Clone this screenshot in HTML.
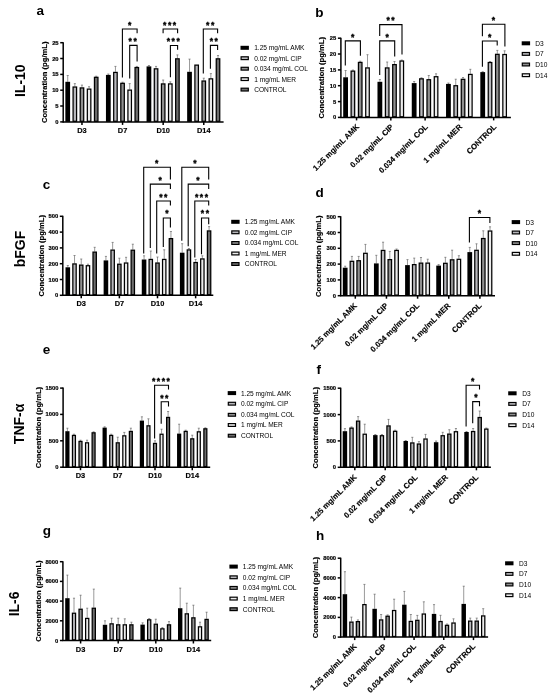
<!DOCTYPE html>
<html lang="en"><head><meta charset="utf-8"><title>Cytokine concentrations</title>
<style>
html,body{margin:0;padding:0;background:#fff;}
body{width:550px;height:698px;overflow:hidden;}
svg{display:block;filter:blur(0.35px);}
text{font-family:"Liberation Sans", sans-serif;fill:#000;}
.a{stroke:#000;stroke-width:1.5;fill:none;}
.e{stroke:#555;stroke-width:0.6;fill:none;}
.b{stroke:#000;stroke-width:1.1;fill:none;}
.t{font-size:5.8px;font-weight:bold;stroke:#000;stroke-width:0.2px;}
.yl{font-size:7.6px;font-weight:bold;stroke:#000;stroke-width:0.15px;}
.xl{font-size:7.4px;font-weight:bold;stroke:#000;stroke-width:0.15px;}
.xr{font-size:7.75px;font-weight:bold;stroke:#000;stroke-width:0.15px;}
.lg{font-size:6.6px;}
.pl{font-size:13.5px;font-weight:bold;}
.rl{font-size:14px;font-weight:bold;}
.s{font-size:8.6px;font-weight:bold;text-anchor:middle;stroke:#000;stroke-width:0.35px;letter-spacing:1.55px;}
</style></head><body>
<svg width="550" height="698" viewBox="0 0 550 698">
<rect x="0" y="0" width="550" height="698" fill="#fff"/>
<g id="panel-a">
<line x1="67.72" y1="81.8" x2="67.72" y2="75.5" class="e"/>
<line x1="66.67" y1="75.5" x2="68.77" y2="75.5" class="e"/>
<rect x="65.35" y="81.8" width="4.75" height="40.1" fill="#000"/>
<line x1="74.84" y1="86.4" x2="74.84" y2="83.6" class="e"/>
<line x1="73.8" y1="83.6" x2="75.89" y2="83.6" class="e"/>
<rect x="73.09" y="87.03" width="3.5" height="34.25" fill="#b8b8bc" stroke="#000" stroke-width="1.25"/>
<line x1="81.96" y1="87.3" x2="81.96" y2="85.1" class="e"/>
<line x1="80.91" y1="85.1" x2="83.01" y2="85.1" class="e"/>
<rect x="80.21" y="87.92" width="3.5" height="33.35" fill="#909090" stroke="#000" stroke-width="1.25"/>
<line x1="89.08" y1="88.5" x2="89.08" y2="86.7" class="e"/>
<line x1="88.03" y1="86.7" x2="90.13" y2="86.7" class="e"/>
<rect x="87.33" y="89.12" width="3.5" height="32.15" fill="#ececec" stroke="#000" stroke-width="1.25"/>
<line x1="96.2" y1="76.7" x2="96.2" y2="76.2" class="e"/>
<line x1="95.16" y1="76.2" x2="97.25" y2="76.2" class="e"/>
<rect x="94.45" y="77.33" width="3.5" height="43.95" fill="#6e6e6e" stroke="#000" stroke-width="1.25"/>
<line x1="108.32" y1="74.9" x2="108.32" y2="74" class="e"/>
<line x1="107.27" y1="74" x2="109.37" y2="74" class="e"/>
<rect x="105.95" y="74.9" width="4.75" height="47" fill="#000"/>
<line x1="115.44" y1="71.8" x2="115.44" y2="66.4" class="e"/>
<line x1="114.39" y1="66.4" x2="116.49" y2="66.4" class="e"/>
<rect x="113.69" y="72.42" width="3.5" height="48.85" fill="#b8b8bc" stroke="#000" stroke-width="1.25"/>
<line x1="122.56" y1="82.7" x2="122.56" y2="82.2" class="e"/>
<line x1="121.51" y1="82.2" x2="123.61" y2="82.2" class="e"/>
<rect x="120.81" y="83.33" width="3.5" height="37.95" fill="#909090" stroke="#000" stroke-width="1.25"/>
<line x1="129.69" y1="89.5" x2="129.69" y2="83.6" class="e"/>
<line x1="128.63" y1="83.6" x2="130.74" y2="83.6" class="e"/>
<rect x="127.93" y="90.12" width="3.5" height="31.15" fill="#ececec" stroke="#000" stroke-width="1.25"/>
<line x1="136.8" y1="66.9" x2="136.8" y2="66.4" class="e"/>
<line x1="135.75" y1="66.4" x2="137.85" y2="66.4" class="e"/>
<rect x="135.05" y="67.53" width="3.5" height="53.75" fill="#6e6e6e" stroke="#000" stroke-width="1.25"/>
<line x1="148.93" y1="66.4" x2="148.93" y2="65.5" class="e"/>
<line x1="147.88" y1="65.5" x2="149.98" y2="65.5" class="e"/>
<rect x="146.55" y="66.4" width="4.75" height="55.5" fill="#000"/>
<line x1="156.05" y1="68.2" x2="156.05" y2="66.4" class="e"/>
<line x1="155" y1="66.4" x2="157.1" y2="66.4" class="e"/>
<rect x="154.3" y="68.83" width="3.5" height="52.45" fill="#b8b8bc" stroke="#000" stroke-width="1.25"/>
<line x1="163.17" y1="83.3" x2="163.17" y2="80" class="e"/>
<line x1="162.12" y1="80" x2="164.22" y2="80" class="e"/>
<rect x="161.42" y="83.92" width="3.5" height="37.35" fill="#909090" stroke="#000" stroke-width="1.25"/>
<line x1="170.29" y1="83.3" x2="170.29" y2="81.8" class="e"/>
<line x1="169.24" y1="81.8" x2="171.34" y2="81.8" class="e"/>
<rect x="168.54" y="83.92" width="3.5" height="37.35" fill="#ececec" stroke="#000" stroke-width="1.25"/>
<line x1="177.41" y1="58.2" x2="177.41" y2="54.9" class="e"/>
<line x1="176.35" y1="54.9" x2="178.46" y2="54.9" class="e"/>
<rect x="175.66" y="58.83" width="3.5" height="62.45" fill="#6e6e6e" stroke="#000" stroke-width="1.25"/>
<line x1="189.53" y1="71.8" x2="189.53" y2="59.1" class="e"/>
<line x1="188.47" y1="59.1" x2="190.58" y2="59.1" class="e"/>
<rect x="187.15" y="71.8" width="4.75" height="50.1" fill="#000"/>
<rect x="194.9" y="65.12" width="3.5" height="56.15" fill="#b8b8bc" stroke="#000" stroke-width="1.25"/>
<line x1="203.77" y1="80.4" x2="203.77" y2="78.2" class="e"/>
<line x1="202.72" y1="78.2" x2="204.82" y2="78.2" class="e"/>
<rect x="202.02" y="81.03" width="3.5" height="40.25" fill="#909090" stroke="#000" stroke-width="1.25"/>
<line x1="210.88" y1="78.2" x2="210.88" y2="73.6" class="e"/>
<line x1="209.83" y1="73.6" x2="211.94" y2="73.6" class="e"/>
<rect x="209.13" y="78.83" width="3.5" height="42.45" fill="#ececec" stroke="#000" stroke-width="1.25"/>
<line x1="218" y1="58.2" x2="218" y2="55.5" class="e"/>
<line x1="216.95" y1="55.5" x2="219.06" y2="55.5" class="e"/>
<rect x="216.25" y="58.83" width="3.5" height="62.45" fill="#6e6e6e" stroke="#000" stroke-width="1.25"/>
<line x1="63.2" y1="42.2" x2="63.2" y2="122.4" class="a"/>
<line x1="62.7" y1="121.9" x2="223.6" y2="121.9" class="a"/>
<line x1="60.2" y1="42.7" x2="63.2" y2="42.7" class="a"/>
<text x="58.6" y="44.75" class="t" text-anchor="end">25</text>
<line x1="60.2" y1="58.5" x2="63.2" y2="58.5" class="a"/>
<text x="58.6" y="60.55" class="t" text-anchor="end">20</text>
<line x1="60.2" y1="74.4" x2="63.2" y2="74.4" class="a"/>
<text x="58.6" y="76.45" class="t" text-anchor="end">15</text>
<line x1="60.2" y1="90.2" x2="63.2" y2="90.2" class="a"/>
<text x="58.6" y="92.25" class="t" text-anchor="end">10</text>
<line x1="60.2" y1="106" x2="63.2" y2="106" class="a"/>
<text x="58.6" y="108.05" class="t" text-anchor="end">5</text>
<line x1="60.2" y1="121.9" x2="63.2" y2="121.9" class="a"/>
<text x="58.6" y="123.95" class="t" text-anchor="end">0</text>
<text transform="translate(47.2,82.3) rotate(-90)" class="yl" text-anchor="middle">Concentration (pg/mL)</text>
<line x1="81.97" y1="121.9" x2="81.97" y2="124.9" class="a"/>
<text x="81.97" y="133" class="xl" text-anchor="middle">D3</text>
<line x1="122.56" y1="121.9" x2="122.56" y2="124.9" class="a"/>
<text x="122.56" y="133" class="xl" text-anchor="middle">D7</text>
<line x1="163.17" y1="121.9" x2="163.17" y2="124.9" class="a"/>
<text x="163.17" y="133" class="xl" text-anchor="middle">D10</text>
<line x1="203.77" y1="121.9" x2="203.77" y2="124.9" class="a"/>
<text x="203.77" y="133" class="xl" text-anchor="middle">D14</text>
<polyline points="122.4,77.4 122.4,29 137.1,29 137.1,33.3" class="b"/>
<text x="130.48" y="27.6" class="s">*</text>
<polyline points="129.7,78.6 129.7,45.4 137.1,45.4 137.1,61.4" class="b"/>
<text x="133.48" y="44" class="s">**</text>
<polyline points="163.1,33.2 163.1,29 177.6,29 177.6,33.2" class="b"/>
<text x="170.38" y="27.7" class="s">***</text>
<polyline points="170.4,77.3 170.4,45.5 177.6,45.5 177.6,49.8" class="b"/>
<text x="173.98" y="44.2" class="s">***</text>
<polyline points="203.3,73.4 203.3,29 217.6,29 217.6,33.3" class="b"/>
<text x="210.98" y="27.6" class="s">**</text>
<polyline points="210.4,68.8 210.4,45.4 217.6,45.4 217.6,49.9" class="b"/>
<text x="214.58" y="44" class="s">**</text>
<rect x="240.5" y="45.8" width="8.4" height="4" fill="#000"/>
<text x="254.2" y="50.2" class="lg">1.25 mg/mL AMK</text>
<rect x="241.1" y="56.8" width="7.2" height="2.8" fill="#b8b8bc" stroke="#000" stroke-width="1.2"/>
<text x="254.2" y="60.6" class="lg">0.02 mg/mL CIP</text>
<rect x="241.1" y="67.3" width="7.2" height="2.8" fill="#909090" stroke="#000" stroke-width="1.2"/>
<text x="254.2" y="71.1" class="lg">0.034 mg/mL COL</text>
<rect x="241.1" y="77.7" width="7.2" height="2.8" fill="#ececec" stroke="#000" stroke-width="1.2"/>
<text x="254.2" y="81.5" class="lg">1 mg/mL MER</text>
<rect x="241.1" y="88.2" width="7.2" height="2.8" fill="#6e6e6e" stroke="#000" stroke-width="1.2"/>
<text x="254.2" y="92" class="lg">CONTROL</text>
<text x="36.6" y="15.2" class="pl">a</text>
<text transform="translate(25,80.7) rotate(-90)" class="rl" text-anchor="middle">IL-10</text>
</g>
<g id="panel-b">
<line x1="345.6" y1="77.3" x2="345.6" y2="70.5" class="e"/>
<line x1="344.55" y1="70.5" x2="346.65" y2="70.5" class="e"/>
<rect x="343.2" y="77.3" width="4.8" height="40.1" fill="#000"/>
<line x1="352.9" y1="70.5" x2="352.9" y2="70" class="e"/>
<line x1="351.85" y1="70" x2="353.95" y2="70" class="e"/>
<rect x="351.12" y="71.12" width="3.55" height="45.65" fill="#b8b8bc" stroke="#000" stroke-width="1.25"/>
<line x1="360.2" y1="61.8" x2="360.2" y2="61.2" class="e"/>
<line x1="359.15" y1="61.2" x2="361.25" y2="61.2" class="e"/>
<rect x="358.43" y="62.42" width="3.55" height="54.35" fill="#909090" stroke="#000" stroke-width="1.25"/>
<line x1="367.5" y1="67.3" x2="367.5" y2="54.7" class="e"/>
<line x1="366.45" y1="54.7" x2="368.55" y2="54.7" class="e"/>
<rect x="365.72" y="67.92" width="3.55" height="48.85" fill="#ececec" stroke="#000" stroke-width="1.25"/>
<line x1="379.88" y1="81.8" x2="379.88" y2="79.5" class="e"/>
<line x1="378.83" y1="79.5" x2="380.93" y2="79.5" class="e"/>
<rect x="377.48" y="81.8" width="4.8" height="35.6" fill="#000"/>
<line x1="387.18" y1="67.3" x2="387.18" y2="62" class="e"/>
<line x1="386.13" y1="62" x2="388.23" y2="62" class="e"/>
<rect x="385.41" y="67.92" width="3.55" height="48.85" fill="#b8b8bc" stroke="#000" stroke-width="1.25"/>
<line x1="394.48" y1="64" x2="394.48" y2="61.5" class="e"/>
<line x1="393.43" y1="61.5" x2="395.53" y2="61.5" class="e"/>
<rect x="392.71" y="64.62" width="3.55" height="52.15" fill="#909090" stroke="#000" stroke-width="1.25"/>
<line x1="401.78" y1="60.4" x2="401.78" y2="60" class="e"/>
<line x1="400.73" y1="60" x2="402.83" y2="60" class="e"/>
<rect x="400" y="61.02" width="3.55" height="55.75" fill="#ececec" stroke="#000" stroke-width="1.25"/>
<line x1="414.16" y1="83.1" x2="414.16" y2="81.5" class="e"/>
<line x1="413.11" y1="81.5" x2="415.21" y2="81.5" class="e"/>
<rect x="411.76" y="83.1" width="4.8" height="34.3" fill="#000"/>
<line x1="421.46" y1="78.2" x2="421.46" y2="77.8" class="e"/>
<line x1="420.41" y1="77.8" x2="422.51" y2="77.8" class="e"/>
<rect x="419.69" y="78.83" width="3.55" height="37.95" fill="#b8b8bc" stroke="#000" stroke-width="1.25"/>
<line x1="428.76" y1="79.1" x2="428.76" y2="75.5" class="e"/>
<line x1="427.71" y1="75.5" x2="429.81" y2="75.5" class="e"/>
<rect x="426.99" y="79.72" width="3.55" height="37.05" fill="#909090" stroke="#000" stroke-width="1.25"/>
<line x1="436.06" y1="76.1" x2="436.06" y2="73.8" class="e"/>
<line x1="435.01" y1="73.8" x2="437.11" y2="73.8" class="e"/>
<rect x="434.28" y="76.72" width="3.55" height="40.05" fill="#ececec" stroke="#000" stroke-width="1.25"/>
<line x1="448.44" y1="83.9" x2="448.44" y2="83" class="e"/>
<line x1="447.39" y1="83" x2="449.49" y2="83" class="e"/>
<rect x="446.04" y="83.9" width="4.8" height="33.5" fill="#000"/>
<line x1="455.74" y1="85.1" x2="455.74" y2="79.2" class="e"/>
<line x1="454.69" y1="79.2" x2="456.79" y2="79.2" class="e"/>
<rect x="453.96" y="85.72" width="3.55" height="31.05" fill="#b8b8bc" stroke="#000" stroke-width="1.25"/>
<line x1="463.04" y1="78.7" x2="463.04" y2="77.5" class="e"/>
<line x1="461.99" y1="77.5" x2="464.09" y2="77.5" class="e"/>
<rect x="461.26" y="79.33" width="3.55" height="37.45" fill="#909090" stroke="#000" stroke-width="1.25"/>
<line x1="470.34" y1="73.8" x2="470.34" y2="69.3" class="e"/>
<line x1="469.29" y1="69.3" x2="471.39" y2="69.3" class="e"/>
<rect x="468.56" y="74.42" width="3.55" height="42.35" fill="#ececec" stroke="#000" stroke-width="1.25"/>
<line x1="482.72" y1="72.1" x2="482.72" y2="71.7" class="e"/>
<line x1="481.67" y1="71.7" x2="483.77" y2="71.7" class="e"/>
<rect x="480.32" y="72.1" width="4.8" height="45.3" fill="#000"/>
<line x1="490.02" y1="61.9" x2="490.02" y2="61.5" class="e"/>
<line x1="488.97" y1="61.5" x2="491.07" y2="61.5" class="e"/>
<rect x="488.25" y="62.52" width="3.55" height="54.25" fill="#b8b8bc" stroke="#000" stroke-width="1.25"/>
<line x1="497.32" y1="53.7" x2="497.32" y2="50.4" class="e"/>
<line x1="496.27" y1="50.4" x2="498.37" y2="50.4" class="e"/>
<rect x="495.55" y="54.33" width="3.55" height="62.45" fill="#909090" stroke="#000" stroke-width="1.25"/>
<line x1="504.62" y1="53.9" x2="504.62" y2="50.8" class="e"/>
<line x1="503.57" y1="50.8" x2="505.67" y2="50.8" class="e"/>
<rect x="502.84" y="54.52" width="3.55" height="62.25" fill="#ececec" stroke="#000" stroke-width="1.25"/>
<line x1="340.9" y1="37.7" x2="340.9" y2="117.9" class="a"/>
<line x1="340.4" y1="117.4" x2="510.9" y2="117.4" class="a"/>
<line x1="337.9" y1="38.2" x2="340.9" y2="38.2" class="a"/>
<text x="336.3" y="40.25" class="t" text-anchor="end">25</text>
<line x1="337.9" y1="54" x2="340.9" y2="54" class="a"/>
<text x="336.3" y="56.05" class="t" text-anchor="end">20</text>
<line x1="337.9" y1="69.9" x2="340.9" y2="69.9" class="a"/>
<text x="336.3" y="71.95" class="t" text-anchor="end">15</text>
<line x1="337.9" y1="85.7" x2="340.9" y2="85.7" class="a"/>
<text x="336.3" y="87.75" class="t" text-anchor="end">10</text>
<line x1="337.9" y1="101.6" x2="340.9" y2="101.6" class="a"/>
<text x="336.3" y="103.65" class="t" text-anchor="end">5</text>
<line x1="337.9" y1="117.4" x2="340.9" y2="117.4" class="a"/>
<text x="336.3" y="119.45" class="t" text-anchor="end">0</text>
<text transform="translate(324.3,77.8) rotate(-90)" class="yl" text-anchor="middle">Concentration (pg/mL)</text>
<line x1="356.55" y1="117.4" x2="356.55" y2="120.4" class="a"/>
<text transform="translate(359.75,127.3) rotate(-45)" class="xr" text-anchor="end">1.25 mg/mL AMK</text>
<line x1="390.83" y1="117.4" x2="390.83" y2="120.4" class="a"/>
<text transform="translate(394.03,127.3) rotate(-45)" class="xr" text-anchor="end">0.02 mg/mL CIP</text>
<line x1="425.11" y1="117.4" x2="425.11" y2="120.4" class="a"/>
<text transform="translate(428.31,127.3) rotate(-45)" class="xr" text-anchor="end">0.034 mg/mL COL</text>
<line x1="459.39" y1="117.4" x2="459.39" y2="120.4" class="a"/>
<text transform="translate(462.59,127.3) rotate(-45)" class="xr" text-anchor="end">1 mg/mL MER</text>
<line x1="493.67" y1="117.4" x2="493.67" y2="120.4" class="a"/>
<text transform="translate(496.87,127.3) rotate(-45)" class="xr" text-anchor="end">CONTROL</text>
<polyline points="345.3,65.4 345.3,40.9 360.4,40.9 360.4,55.8" class="b"/>
<text x="353.48" y="39.7" class="s">*</text>
<polyline points="379.7,36.1 379.7,24.6 402,24.6 402,54.5" class="b"/>
<text x="391.38" y="23.3" class="s">**</text>
<polyline points="379.7,74.9 379.7,40.9 394.7,40.9 394.7,56.5" class="b"/>
<text x="387.88" y="39.7" class="s">*</text>
<polyline points="482.4,36.2 482.4,24.3 504.9,24.3 504.9,46.4" class="b"/>
<text x="494.08" y="23.4" class="s">*</text>
<polyline points="482.4,66.7 482.4,41 497.2,41 497.2,45.6" class="b"/>
<text x="490.38" y="39.9" class="s">*</text>
<rect x="521.7" y="41.3" width="8.4" height="4" fill="#000"/>
<text x="535.3" y="45.7" class="lg">D3</text>
<rect x="522.3" y="52.5" width="7.2" height="2.8" fill="#b8b8bc" stroke="#000" stroke-width="1.2"/>
<text x="535.3" y="56.3" class="lg">D7</text>
<rect x="522.3" y="63.1" width="7.2" height="2.8" fill="#909090" stroke="#000" stroke-width="1.2"/>
<text x="535.3" y="66.9" class="lg">D10</text>
<rect x="522.3" y="73.8" width="7.2" height="2.8" fill="#ececec" stroke="#000" stroke-width="1.2"/>
<text x="535.3" y="77.6" class="lg">D14</text>
<text x="315.3" y="16.9" class="pl">b</text>
</g>
<g id="panel-c">
<line x1="67.8" y1="267.3" x2="67.8" y2="265.5" class="e"/>
<line x1="66.75" y1="265.5" x2="68.85" y2="265.5" class="e"/>
<rect x="65.5" y="267.3" width="4.6" height="28" fill="#000"/>
<line x1="74.52" y1="263.3" x2="74.52" y2="255.5" class="e"/>
<line x1="73.47" y1="255.5" x2="75.57" y2="255.5" class="e"/>
<rect x="72.84" y="263.93" width="3.35" height="30.75" fill="#b8b8bc" stroke="#000" stroke-width="1.25"/>
<line x1="81.24" y1="264.5" x2="81.24" y2="259" class="e"/>
<line x1="80.19" y1="259" x2="82.29" y2="259" class="e"/>
<rect x="79.56" y="265.12" width="3.35" height="29.55" fill="#909090" stroke="#000" stroke-width="1.25"/>
<line x1="87.96" y1="265.1" x2="87.96" y2="264.2" class="e"/>
<line x1="86.91" y1="264.2" x2="89.01" y2="264.2" class="e"/>
<rect x="86.28" y="265.73" width="3.35" height="28.95" fill="#ececec" stroke="#000" stroke-width="1.25"/>
<line x1="94.68" y1="251.5" x2="94.68" y2="247.3" class="e"/>
<line x1="93.63" y1="247.3" x2="95.73" y2="247.3" class="e"/>
<rect x="93" y="252.12" width="3.35" height="42.55" fill="#6e6e6e" stroke="#000" stroke-width="1.25"/>
<line x1="105.93" y1="260.4" x2="105.93" y2="256.4" class="e"/>
<line x1="104.88" y1="256.4" x2="106.98" y2="256.4" class="e"/>
<rect x="103.63" y="260.4" width="4.6" height="34.9" fill="#000"/>
<line x1="112.65" y1="249.5" x2="112.65" y2="242.4" class="e"/>
<line x1="111.6" y1="242.4" x2="113.7" y2="242.4" class="e"/>
<rect x="110.97" y="250.12" width="3.35" height="44.55" fill="#b8b8bc" stroke="#000" stroke-width="1.25"/>
<line x1="119.37" y1="263.6" x2="119.37" y2="258.2" class="e"/>
<line x1="118.32" y1="258.2" x2="120.42" y2="258.2" class="e"/>
<rect x="117.69" y="264.23" width="3.35" height="30.45" fill="#909090" stroke="#000" stroke-width="1.25"/>
<line x1="126.09" y1="262.4" x2="126.09" y2="257.3" class="e"/>
<line x1="125.04" y1="257.3" x2="127.14" y2="257.3" class="e"/>
<rect x="124.41" y="263.02" width="3.35" height="31.65" fill="#ececec" stroke="#000" stroke-width="1.25"/>
<line x1="132.81" y1="249.6" x2="132.81" y2="244.2" class="e"/>
<line x1="131.76" y1="244.2" x2="133.86" y2="244.2" class="e"/>
<rect x="131.13" y="250.22" width="3.35" height="44.45" fill="#6e6e6e" stroke="#000" stroke-width="1.25"/>
<line x1="144.06" y1="259.5" x2="144.06" y2="255.8" class="e"/>
<line x1="143.01" y1="255.8" x2="145.11" y2="255.8" class="e"/>
<rect x="141.76" y="259.5" width="4.6" height="35.8" fill="#000"/>
<line x1="150.78" y1="258.8" x2="150.78" y2="251" class="e"/>
<line x1="149.73" y1="251" x2="151.83" y2="251" class="e"/>
<rect x="149.1" y="259.43" width="3.35" height="35.25" fill="#b8b8bc" stroke="#000" stroke-width="1.25"/>
<line x1="157.5" y1="262.4" x2="157.5" y2="257" class="e"/>
<line x1="156.45" y1="257" x2="158.55" y2="257" class="e"/>
<rect x="155.82" y="263.02" width="3.35" height="31.65" fill="#909090" stroke="#000" stroke-width="1.25"/>
<line x1="164.22" y1="258.8" x2="164.22" y2="249.8" class="e"/>
<line x1="163.17" y1="249.8" x2="165.27" y2="249.8" class="e"/>
<rect x="162.54" y="259.43" width="3.35" height="35.25" fill="#ececec" stroke="#000" stroke-width="1.25"/>
<line x1="170.94" y1="238" x2="170.94" y2="231.5" class="e"/>
<line x1="169.89" y1="231.5" x2="171.99" y2="231.5" class="e"/>
<rect x="169.26" y="238.62" width="3.35" height="56.05" fill="#6e6e6e" stroke="#000" stroke-width="1.25"/>
<line x1="182.19" y1="252.7" x2="182.19" y2="243.7" class="e"/>
<line x1="181.14" y1="243.7" x2="183.24" y2="243.7" class="e"/>
<rect x="179.89" y="252.7" width="4.6" height="42.6" fill="#000"/>
<line x1="188.91" y1="249.3" x2="188.91" y2="248.5" class="e"/>
<line x1="187.86" y1="248.5" x2="189.96" y2="248.5" class="e"/>
<rect x="187.24" y="249.93" width="3.35" height="44.75" fill="#b8b8bc" stroke="#000" stroke-width="1.25"/>
<line x1="195.63" y1="261.9" x2="195.63" y2="259.5" class="e"/>
<line x1="194.58" y1="259.5" x2="196.68" y2="259.5" class="e"/>
<rect x="193.96" y="262.52" width="3.35" height="32.15" fill="#909090" stroke="#000" stroke-width="1.25"/>
<line x1="202.35" y1="258.3" x2="202.35" y2="255.8" class="e"/>
<line x1="201.3" y1="255.8" x2="203.4" y2="255.8" class="e"/>
<rect x="200.68" y="258.93" width="3.35" height="35.75" fill="#ececec" stroke="#000" stroke-width="1.25"/>
<line x1="209.07" y1="230.3" x2="209.07" y2="226.6" class="e"/>
<line x1="208.02" y1="226.6" x2="210.12" y2="226.6" class="e"/>
<rect x="207.4" y="230.93" width="3.35" height="63.75" fill="#6e6e6e" stroke="#000" stroke-width="1.25"/>
<line x1="62.8" y1="215.8" x2="62.8" y2="295.8" class="a"/>
<line x1="62.3" y1="295.3" x2="213.3" y2="295.3" class="a"/>
<line x1="59.8" y1="216.3" x2="62.8" y2="216.3" class="a"/>
<text x="58.2" y="218.35" class="t" text-anchor="end">500</text>
<line x1="59.8" y1="232.1" x2="62.8" y2="232.1" class="a"/>
<text x="58.2" y="234.15" class="t" text-anchor="end">400</text>
<line x1="59.8" y1="247.9" x2="62.8" y2="247.9" class="a"/>
<text x="58.2" y="249.95" class="t" text-anchor="end">300</text>
<line x1="59.8" y1="263.7" x2="62.8" y2="263.7" class="a"/>
<text x="58.2" y="265.75" class="t" text-anchor="end">200</text>
<line x1="59.8" y1="279.5" x2="62.8" y2="279.5" class="a"/>
<text x="58.2" y="281.55" class="t" text-anchor="end">100</text>
<line x1="59.8" y1="295.3" x2="62.8" y2="295.3" class="a"/>
<text x="58.2" y="297.35" class="t" text-anchor="end">0</text>
<text transform="translate(43.9,255.8) rotate(-90)" class="yl" text-anchor="middle">Concentration (pg/mL)</text>
<line x1="81.24" y1="295.3" x2="81.24" y2="298.3" class="a"/>
<text x="81.24" y="306.4" class="xl" text-anchor="middle">D3</text>
<line x1="119.37" y1="295.3" x2="119.37" y2="298.3" class="a"/>
<text x="119.37" y="306.4" class="xl" text-anchor="middle">D7</text>
<line x1="157.5" y1="295.3" x2="157.5" y2="298.3" class="a"/>
<text x="157.5" y="306.4" class="xl" text-anchor="middle">D10</text>
<line x1="195.63" y1="295.3" x2="195.63" y2="298.3" class="a"/>
<text x="195.63" y="306.4" class="xl" text-anchor="middle">D14</text>
<polyline points="143.7,253.4 143.7,167.3 170.4,167.3 170.4,179.4" class="b"/>
<text x="157.48" y="166" class="s">*</text>
<polyline points="150.3,247.9 150.3,184.1 170.4,184.1 170.4,188.9" class="b"/>
<text x="160.98" y="183" class="s">*</text>
<polyline points="156.7,253.4 156.7,201 170.4,201 170.4,205.4" class="b"/>
<text x="164.08" y="199.9" class="s">**</text>
<polyline points="163.3,247.1 163.3,218 170.4,218 170.4,227.4" class="b"/>
<text x="167.78" y="216.4" class="s">*</text>
<polyline points="181.8,240.8 181.8,167.3 208.7,167.3 208.7,179.4" class="b"/>
<text x="195.58" y="166" class="s">*</text>
<polyline points="188.2,246.3 188.2,184.1 208.7,184.1 208.7,188.9" class="b"/>
<text x="198.78" y="183" class="s">*</text>
<polyline points="194.8,257.4 194.8,201 208.7,201 208.7,205.4" class="b"/>
<text x="202.28" y="199.9" class="s">***</text>
<polyline points="201.5,254.2 201.5,218 208.7,218 208.7,224.3" class="b"/>
<text x="205.68" y="216.4" class="s">**</text>
<rect x="231.2" y="219.8" width="8.4" height="4" fill="#000"/>
<text x="244.7" y="224.2" class="lg">1.25 mg/mL AMK</text>
<rect x="231.8" y="230.9" width="7.2" height="2.8" fill="#b8b8bc" stroke="#000" stroke-width="1.2"/>
<text x="244.7" y="234.7" class="lg">0.02 mg/mL CIP</text>
<rect x="231.8" y="241.6" width="7.2" height="2.8" fill="#909090" stroke="#000" stroke-width="1.2"/>
<text x="244.7" y="245.4" class="lg">0.034 mg/mL COL</text>
<rect x="231.8" y="252.1" width="7.2" height="2.8" fill="#ececec" stroke="#000" stroke-width="1.2"/>
<text x="244.7" y="255.9" class="lg">1 mg/mL MER</text>
<rect x="231.8" y="262.6" width="7.2" height="2.8" fill="#6e6e6e" stroke="#000" stroke-width="1.2"/>
<text x="244.7" y="266.4" class="lg">CONTROL</text>
<text x="42.8" y="188.6" class="pl">c</text>
<text transform="translate(25.2,249) rotate(-90)" class="rl" text-anchor="middle">bFGF</text>
</g>
<g id="panel-d">
<line x1="345.18" y1="267.7" x2="345.18" y2="266.2" class="e"/>
<line x1="344.12" y1="266.2" x2="346.23" y2="266.2" class="e"/>
<rect x="342.8" y="267.7" width="4.75" height="28" fill="#000"/>
<line x1="351.93" y1="260.7" x2="351.93" y2="256.4" class="e"/>
<line x1="350.88" y1="256.4" x2="352.98" y2="256.4" class="e"/>
<rect x="350.18" y="261.32" width="3.5" height="33.75" fill="#b8b8bc" stroke="#000" stroke-width="1.25"/>
<line x1="358.68" y1="260.1" x2="358.68" y2="256.4" class="e"/>
<line x1="357.62" y1="256.4" x2="359.73" y2="256.4" class="e"/>
<rect x="356.93" y="260.73" width="3.5" height="34.35" fill="#909090" stroke="#000" stroke-width="1.25"/>
<line x1="365.43" y1="252.7" x2="365.43" y2="244.4" class="e"/>
<line x1="364.38" y1="244.4" x2="366.48" y2="244.4" class="e"/>
<rect x="363.68" y="253.32" width="3.5" height="41.75" fill="#ececec" stroke="#000" stroke-width="1.25"/>
<line x1="376.32" y1="263.4" x2="376.32" y2="255.3" class="e"/>
<line x1="375.27" y1="255.3" x2="377.38" y2="255.3" class="e"/>
<rect x="373.95" y="263.4" width="4.75" height="32.3" fill="#000"/>
<line x1="383.07" y1="249.8" x2="383.07" y2="242.2" class="e"/>
<line x1="382.02" y1="242.2" x2="384.12" y2="242.2" class="e"/>
<rect x="381.32" y="250.43" width="3.5" height="44.65" fill="#b8b8bc" stroke="#000" stroke-width="1.25"/>
<line x1="389.82" y1="259" x2="389.82" y2="251.4" class="e"/>
<line x1="388.77" y1="251.4" x2="390.88" y2="251.4" class="e"/>
<rect x="388.07" y="259.62" width="3.5" height="35.45" fill="#909090" stroke="#000" stroke-width="1.25"/>
<line x1="396.57" y1="249.8" x2="396.57" y2="249" class="e"/>
<line x1="395.52" y1="249" x2="397.62" y2="249" class="e"/>
<rect x="394.82" y="250.43" width="3.5" height="44.65" fill="#ececec" stroke="#000" stroke-width="1.25"/>
<line x1="407.48" y1="265.1" x2="407.48" y2="259.6" class="e"/>
<line x1="406.43" y1="259.6" x2="408.53" y2="259.6" class="e"/>
<rect x="405.1" y="265.1" width="4.75" height="30.6" fill="#000"/>
<line x1="414.23" y1="264" x2="414.23" y2="258.1" class="e"/>
<line x1="413.18" y1="258.1" x2="415.28" y2="258.1" class="e"/>
<rect x="412.48" y="264.62" width="3.5" height="30.45" fill="#b8b8bc" stroke="#000" stroke-width="1.25"/>
<line x1="420.98" y1="262.5" x2="420.98" y2="257.5" class="e"/>
<line x1="419.93" y1="257.5" x2="422.03" y2="257.5" class="e"/>
<rect x="419.23" y="263.12" width="3.5" height="31.95" fill="#909090" stroke="#000" stroke-width="1.25"/>
<line x1="427.73" y1="262.5" x2="427.73" y2="259.2" class="e"/>
<line x1="426.68" y1="259.2" x2="428.78" y2="259.2" class="e"/>
<rect x="425.98" y="263.12" width="3.5" height="31.95" fill="#ececec" stroke="#000" stroke-width="1.25"/>
<line x1="438.62" y1="265.6" x2="438.62" y2="264.6" class="e"/>
<line x1="437.57" y1="264.6" x2="439.68" y2="264.6" class="e"/>
<rect x="436.25" y="265.6" width="4.75" height="30.1" fill="#000"/>
<line x1="445.38" y1="262.7" x2="445.38" y2="257.3" class="e"/>
<line x1="444.32" y1="257.3" x2="446.43" y2="257.3" class="e"/>
<rect x="443.62" y="263.32" width="3.5" height="31.75" fill="#b8b8bc" stroke="#000" stroke-width="1.25"/>
<line x1="452.12" y1="259.2" x2="452.12" y2="250.2" class="e"/>
<line x1="451.07" y1="250.2" x2="453.18" y2="250.2" class="e"/>
<rect x="450.38" y="259.82" width="3.5" height="35.25" fill="#909090" stroke="#000" stroke-width="1.25"/>
<line x1="458.88" y1="258.7" x2="458.88" y2="255.7" class="e"/>
<line x1="457.82" y1="255.7" x2="459.93" y2="255.7" class="e"/>
<rect x="457.12" y="259.32" width="3.5" height="35.75" fill="#ececec" stroke="#000" stroke-width="1.25"/>
<line x1="469.77" y1="252.1" x2="469.77" y2="247.4" class="e"/>
<line x1="468.72" y1="247.4" x2="470.82" y2="247.4" class="e"/>
<rect x="467.4" y="252.1" width="4.75" height="43.6" fill="#000"/>
<line x1="476.52" y1="249.7" x2="476.52" y2="243.8" class="e"/>
<line x1="475.47" y1="243.8" x2="477.57" y2="243.8" class="e"/>
<rect x="474.77" y="250.32" width="3.5" height="44.75" fill="#b8b8bc" stroke="#000" stroke-width="1.25"/>
<line x1="483.27" y1="237.9" x2="483.27" y2="230.8" class="e"/>
<line x1="482.22" y1="230.8" x2="484.32" y2="230.8" class="e"/>
<rect x="481.52" y="238.53" width="3.5" height="56.55" fill="#909090" stroke="#000" stroke-width="1.25"/>
<line x1="490.02" y1="230.4" x2="490.02" y2="226.8" class="e"/>
<line x1="488.97" y1="226.8" x2="491.07" y2="226.8" class="e"/>
<rect x="488.27" y="231.03" width="3.5" height="64.05" fill="#ececec" stroke="#000" stroke-width="1.25"/>
<line x1="340.7" y1="216.2" x2="340.7" y2="296.2" class="a"/>
<line x1="340.2" y1="295.7" x2="495" y2="295.7" class="a"/>
<line x1="337.7" y1="216.7" x2="340.7" y2="216.7" class="a"/>
<text x="336.1" y="218.75" class="t" text-anchor="end">500</text>
<line x1="337.7" y1="232.5" x2="340.7" y2="232.5" class="a"/>
<text x="336.1" y="234.55" class="t" text-anchor="end">400</text>
<line x1="337.7" y1="248.3" x2="340.7" y2="248.3" class="a"/>
<text x="336.1" y="250.35" class="t" text-anchor="end">300</text>
<line x1="337.7" y1="264.1" x2="340.7" y2="264.1" class="a"/>
<text x="336.1" y="266.15" class="t" text-anchor="end">200</text>
<line x1="337.7" y1="279.9" x2="340.7" y2="279.9" class="a"/>
<text x="336.1" y="281.95" class="t" text-anchor="end">100</text>
<line x1="337.7" y1="295.7" x2="340.7" y2="295.7" class="a"/>
<text x="336.1" y="297.75" class="t" text-anchor="end">0</text>
<text transform="translate(320.8,256.2) rotate(-90)" class="yl" text-anchor="middle">Concentration (pg/mL)</text>
<line x1="355.3" y1="295.7" x2="355.3" y2="298.7" class="a"/>
<text transform="translate(357.5,306.2) rotate(-45)" class="xr" text-anchor="end">1.25 mg/mL AMK</text>
<line x1="386.45" y1="295.7" x2="386.45" y2="298.7" class="a"/>
<text transform="translate(388.65,306.2) rotate(-45)" class="xr" text-anchor="end">0.02 mg/mL CIP</text>
<line x1="417.6" y1="295.7" x2="417.6" y2="298.7" class="a"/>
<text transform="translate(419.8,306.2) rotate(-45)" class="xr" text-anchor="end">0.034 mg/mL COL</text>
<line x1="448.75" y1="295.7" x2="448.75" y2="298.7" class="a"/>
<text transform="translate(450.95,306.2) rotate(-45)" class="xr" text-anchor="end">1 mg/mL MER</text>
<line x1="479.9" y1="295.7" x2="479.9" y2="298.7" class="a"/>
<text transform="translate(482.1,306.2) rotate(-45)" class="xr" text-anchor="end">CONTROL</text>
<polyline points="469.4,242.6 469.4,217.5 489.9,217.5 489.9,222.9" class="b"/>
<text x="480.28" y="216.3" class="s">*</text>
<rect x="511.7" y="220.1" width="8.4" height="4" fill="#000"/>
<text x="525.4" y="224.5" class="lg">D3</text>
<rect x="512.3" y="231.1" width="7.2" height="2.8" fill="#b8b8bc" stroke="#000" stroke-width="1.2"/>
<text x="525.4" y="234.9" class="lg">D7</text>
<rect x="512.3" y="241.7" width="7.2" height="2.8" fill="#909090" stroke="#000" stroke-width="1.2"/>
<text x="525.4" y="245.5" class="lg">D10</text>
<rect x="512.3" y="252.4" width="7.2" height="2.8" fill="#ececec" stroke="#000" stroke-width="1.2"/>
<text x="525.4" y="256.2" class="lg">D14</text>
<text x="315.4" y="197" class="pl">d</text>
</g>
<g id="panel-e">
<line x1="67.4" y1="431.2" x2="67.4" y2="428.2" class="e"/>
<line x1="66.35" y1="428.2" x2="68.45" y2="428.2" class="e"/>
<rect x="65.3" y="431.2" width="4.2" height="36" fill="#000"/>
<line x1="73.95" y1="434.8" x2="73.95" y2="434.2" class="e"/>
<line x1="72.9" y1="434.2" x2="75" y2="434.2" class="e"/>
<rect x="72.47" y="435.43" width="2.95" height="31.15" fill="#b8b8bc" stroke="#000" stroke-width="1.25"/>
<line x1="80.5" y1="440.8" x2="80.5" y2="440.2" class="e"/>
<line x1="79.45" y1="440.2" x2="81.55" y2="440.2" class="e"/>
<rect x="79.02" y="441.43" width="2.95" height="25.15" fill="#909090" stroke="#000" stroke-width="1.25"/>
<line x1="87.05" y1="442.2" x2="87.05" y2="440.2" class="e"/>
<line x1="86" y1="440.2" x2="88.1" y2="440.2" class="e"/>
<rect x="85.57" y="442.82" width="2.95" height="23.75" fill="#ececec" stroke="#000" stroke-width="1.25"/>
<line x1="93.6" y1="432.2" x2="93.6" y2="431.8" class="e"/>
<line x1="92.55" y1="431.8" x2="94.65" y2="431.8" class="e"/>
<rect x="92.12" y="432.82" width="2.95" height="33.75" fill="#6e6e6e" stroke="#000" stroke-width="1.25"/>
<line x1="104.65" y1="427.6" x2="104.65" y2="426.8" class="e"/>
<line x1="103.6" y1="426.8" x2="105.7" y2="426.8" class="e"/>
<rect x="102.55" y="427.6" width="4.2" height="39.6" fill="#000"/>
<line x1="111.2" y1="434.8" x2="111.2" y2="434.2" class="e"/>
<line x1="110.15" y1="434.2" x2="112.25" y2="434.2" class="e"/>
<rect x="109.72" y="435.43" width="2.95" height="31.15" fill="#b8b8bc" stroke="#000" stroke-width="1.25"/>
<line x1="117.75" y1="442.2" x2="117.75" y2="437.2" class="e"/>
<line x1="116.7" y1="437.2" x2="118.8" y2="437.2" class="e"/>
<rect x="116.27" y="442.82" width="2.95" height="23.75" fill="#909090" stroke="#000" stroke-width="1.25"/>
<line x1="124.3" y1="435.2" x2="124.3" y2="432.4" class="e"/>
<line x1="123.25" y1="432.4" x2="125.35" y2="432.4" class="e"/>
<rect x="122.82" y="435.82" width="2.95" height="30.75" fill="#ececec" stroke="#000" stroke-width="1.25"/>
<line x1="130.85" y1="430.8" x2="130.85" y2="428.2" class="e"/>
<line x1="129.8" y1="428.2" x2="131.9" y2="428.2" class="e"/>
<rect x="129.38" y="431.43" width="2.95" height="35.15" fill="#6e6e6e" stroke="#000" stroke-width="1.25"/>
<line x1="141.9" y1="420.6" x2="141.9" y2="416.8" class="e"/>
<line x1="140.85" y1="416.8" x2="142.95" y2="416.8" class="e"/>
<rect x="139.8" y="420.6" width="4.2" height="46.6" fill="#000"/>
<line x1="148.45" y1="425.2" x2="148.45" y2="418.8" class="e"/>
<line x1="147.4" y1="418.8" x2="149.5" y2="418.8" class="e"/>
<rect x="146.98" y="425.82" width="2.95" height="40.75" fill="#b8b8bc" stroke="#000" stroke-width="1.25"/>
<line x1="155" y1="442.8" x2="155" y2="440.8" class="e"/>
<line x1="153.95" y1="440.8" x2="156.05" y2="440.8" class="e"/>
<rect x="153.53" y="443.43" width="2.95" height="23.15" fill="#909090" stroke="#000" stroke-width="1.25"/>
<line x1="161.55" y1="433.6" x2="161.55" y2="429.2" class="e"/>
<line x1="160.5" y1="429.2" x2="162.6" y2="429.2" class="e"/>
<rect x="160.08" y="434.23" width="2.95" height="32.35" fill="#ececec" stroke="#000" stroke-width="1.25"/>
<line x1="168.1" y1="416.8" x2="168.1" y2="411.5" class="e"/>
<line x1="167.05" y1="411.5" x2="169.15" y2="411.5" class="e"/>
<rect x="166.62" y="417.43" width="2.95" height="49.15" fill="#6e6e6e" stroke="#000" stroke-width="1.25"/>
<line x1="179.15" y1="433.6" x2="179.15" y2="424.2" class="e"/>
<line x1="178.1" y1="424.2" x2="180.2" y2="424.2" class="e"/>
<rect x="177.05" y="433.6" width="4.2" height="33.6" fill="#000"/>
<line x1="185.7" y1="430.8" x2="185.7" y2="430.2" class="e"/>
<line x1="184.65" y1="430.2" x2="186.75" y2="430.2" class="e"/>
<rect x="184.23" y="431.43" width="2.95" height="35.15" fill="#b8b8bc" stroke="#000" stroke-width="1.25"/>
<line x1="192.25" y1="438.2" x2="192.25" y2="435.2" class="e"/>
<line x1="191.2" y1="435.2" x2="193.3" y2="435.2" class="e"/>
<rect x="190.78" y="438.82" width="2.95" height="27.75" fill="#909090" stroke="#000" stroke-width="1.25"/>
<line x1="198.8" y1="431.2" x2="198.8" y2="428.2" class="e"/>
<line x1="197.75" y1="428.2" x2="199.85" y2="428.2" class="e"/>
<rect x="197.33" y="431.82" width="2.95" height="34.75" fill="#ececec" stroke="#000" stroke-width="1.25"/>
<line x1="205.35" y1="428.2" x2="205.35" y2="427.8" class="e"/>
<line x1="204.3" y1="427.8" x2="206.4" y2="427.8" class="e"/>
<rect x="203.88" y="428.82" width="2.95" height="37.75" fill="#6e6e6e" stroke="#000" stroke-width="1.25"/>
<line x1="63.1" y1="387.6" x2="63.1" y2="467.7" class="a"/>
<line x1="62.6" y1="467.2" x2="210.2" y2="467.2" class="a"/>
<line x1="60.1" y1="388.1" x2="63.1" y2="388.1" class="a"/>
<text x="58.5" y="390.15" class="t" text-anchor="end">1500</text>
<line x1="60.1" y1="414.4" x2="63.1" y2="414.4" class="a"/>
<text x="58.5" y="416.45" class="t" text-anchor="end">1000</text>
<line x1="60.1" y1="440.8" x2="63.1" y2="440.8" class="a"/>
<text x="58.5" y="442.85" class="t" text-anchor="end">500</text>
<line x1="60.1" y1="467.2" x2="63.1" y2="467.2" class="a"/>
<text x="58.5" y="469.25" class="t" text-anchor="end">0</text>
<text transform="translate(40.6,427.65) rotate(-90)" class="yl" text-anchor="middle">Concentration (pg/mL)</text>
<line x1="80.5" y1="467.2" x2="80.5" y2="470.2" class="a"/>
<text x="80.5" y="478.3" class="xl" text-anchor="middle">D3</text>
<line x1="117.75" y1="467.2" x2="117.75" y2="470.2" class="a"/>
<text x="117.75" y="478.3" class="xl" text-anchor="middle">D7</text>
<line x1="155" y1="467.2" x2="155" y2="470.2" class="a"/>
<text x="155" y="478.3" class="xl" text-anchor="middle">D10</text>
<line x1="192.25" y1="467.2" x2="192.25" y2="470.2" class="a"/>
<text x="192.25" y="478.3" class="xl" text-anchor="middle">D14</text>
<polyline points="154.6,438.4 154.6,385.3 168.5,385.3 168.5,389.6" class="b"/>
<text x="161.68" y="383.9" class="s">****</text>
<polyline points="161.2,423.8 161.2,401.7 168.5,401.7 168.5,406.4" class="b"/>
<text x="165.08" y="400.6" class="s">**</text>
<rect x="227.7" y="391.1" width="8.4" height="4" fill="#000"/>
<text x="240.9" y="395.5" class="lg">1.25 mg/mL AMK</text>
<rect x="228.3" y="402.3" width="7.2" height="2.8" fill="#b8b8bc" stroke="#000" stroke-width="1.2"/>
<text x="240.9" y="406.1" class="lg">0.02 mg/mL CIP</text>
<rect x="228.3" y="413.4" width="7.2" height="2.8" fill="#909090" stroke="#000" stroke-width="1.2"/>
<text x="240.9" y="417.2" class="lg">0.034 mg/mL COL</text>
<rect x="228.3" y="423.6" width="7.2" height="2.8" fill="#ececec" stroke="#000" stroke-width="1.2"/>
<text x="240.9" y="427.4" class="lg">1 mg/mL MER</text>
<rect x="228.3" y="434.3" width="7.2" height="2.8" fill="#6e6e6e" stroke="#000" stroke-width="1.2"/>
<text x="240.9" y="438.1" class="lg">CONTROL</text>
<text x="42.8" y="354.2" class="pl">e</text>
<text transform="translate(24,423.9) rotate(-90)" class="rl" text-anchor="middle">TNF-α</text>
</g>
<g id="panel-f">
<line x1="344.93" y1="431.2" x2="344.93" y2="428.6" class="e"/>
<line x1="343.88" y1="428.6" x2="345.98" y2="428.6" class="e"/>
<rect x="342.7" y="431.2" width="4.45" height="36.1" fill="#000"/>
<line x1="351.53" y1="427.5" x2="351.53" y2="426.9" class="e"/>
<line x1="350.48" y1="426.9" x2="352.58" y2="426.9" class="e"/>
<rect x="349.93" y="428.12" width="3.2" height="38.55" fill="#b8b8bc" stroke="#000" stroke-width="1.25"/>
<line x1="358.12" y1="420.5" x2="358.12" y2="416.6" class="e"/>
<line x1="357.07" y1="416.6" x2="359.18" y2="416.6" class="e"/>
<rect x="356.52" y="421.12" width="3.2" height="45.55" fill="#909090" stroke="#000" stroke-width="1.25"/>
<line x1="364.73" y1="433.6" x2="364.73" y2="424.2" class="e"/>
<line x1="363.68" y1="424.2" x2="365.78" y2="424.2" class="e"/>
<rect x="363.12" y="434.23" width="3.2" height="32.45" fill="#ececec" stroke="#000" stroke-width="1.25"/>
<line x1="375.32" y1="435.1" x2="375.32" y2="434.5" class="e"/>
<line x1="374.27" y1="434.5" x2="376.38" y2="434.5" class="e"/>
<rect x="373.1" y="435.1" width="4.45" height="32.2" fill="#000"/>
<line x1="381.93" y1="435.1" x2="381.93" y2="434.5" class="e"/>
<line x1="380.88" y1="434.5" x2="382.98" y2="434.5" class="e"/>
<rect x="380.32" y="435.73" width="3.2" height="30.95" fill="#b8b8bc" stroke="#000" stroke-width="1.25"/>
<line x1="388.52" y1="425.3" x2="388.52" y2="419.4" class="e"/>
<line x1="387.47" y1="419.4" x2="389.57" y2="419.4" class="e"/>
<rect x="386.92" y="425.93" width="3.2" height="40.75" fill="#909090" stroke="#000" stroke-width="1.25"/>
<line x1="395.12" y1="430.7" x2="395.12" y2="430.2" class="e"/>
<line x1="394.07" y1="430.2" x2="396.18" y2="430.2" class="e"/>
<rect x="393.52" y="431.32" width="3.2" height="35.35" fill="#ececec" stroke="#000" stroke-width="1.25"/>
<line x1="405.73" y1="441" x2="405.73" y2="440.5" class="e"/>
<line x1="404.68" y1="440.5" x2="406.78" y2="440.5" class="e"/>
<rect x="403.5" y="441" width="4.45" height="26.3" fill="#000"/>
<line x1="412.33" y1="442.3" x2="412.33" y2="437.3" class="e"/>
<line x1="411.28" y1="437.3" x2="413.38" y2="437.3" class="e"/>
<rect x="410.73" y="442.93" width="3.2" height="23.75" fill="#b8b8bc" stroke="#000" stroke-width="1.25"/>
<line x1="418.93" y1="443.4" x2="418.93" y2="441.6" class="e"/>
<line x1="417.88" y1="441.6" x2="419.98" y2="441.6" class="e"/>
<rect x="417.32" y="444.02" width="3.2" height="22.65" fill="#909090" stroke="#000" stroke-width="1.25"/>
<line x1="425.53" y1="438.4" x2="425.53" y2="434.4" class="e"/>
<line x1="424.48" y1="434.4" x2="426.58" y2="434.4" class="e"/>
<rect x="423.93" y="439.02" width="3.2" height="27.65" fill="#ececec" stroke="#000" stroke-width="1.25"/>
<line x1="436.12" y1="442.2" x2="436.12" y2="441" class="e"/>
<line x1="435.07" y1="441" x2="437.18" y2="441" class="e"/>
<rect x="433.9" y="442.2" width="4.45" height="25.1" fill="#000"/>
<line x1="442.73" y1="435.1" x2="442.73" y2="432.3" class="e"/>
<line x1="441.68" y1="432.3" x2="443.78" y2="432.3" class="e"/>
<rect x="441.12" y="435.73" width="3.2" height="30.95" fill="#b8b8bc" stroke="#000" stroke-width="1.25"/>
<line x1="449.32" y1="433.5" x2="449.32" y2="429.7" class="e"/>
<line x1="448.27" y1="429.7" x2="450.38" y2="429.7" class="e"/>
<rect x="447.72" y="434.12" width="3.2" height="32.55" fill="#909090" stroke="#000" stroke-width="1.25"/>
<line x1="455.93" y1="431.1" x2="455.93" y2="428.5" class="e"/>
<line x1="454.88" y1="428.5" x2="456.98" y2="428.5" class="e"/>
<rect x="454.32" y="431.73" width="3.2" height="34.95" fill="#ececec" stroke="#000" stroke-width="1.25"/>
<line x1="466.52" y1="432" x2="466.52" y2="431.5" class="e"/>
<line x1="465.47" y1="431.5" x2="467.57" y2="431.5" class="e"/>
<rect x="464.3" y="432" width="4.45" height="35.3" fill="#000"/>
<line x1="473.12" y1="430.9" x2="473.12" y2="428.5" class="e"/>
<line x1="472.07" y1="428.5" x2="474.18" y2="428.5" class="e"/>
<rect x="471.52" y="431.52" width="3.2" height="35.15" fill="#b8b8bc" stroke="#000" stroke-width="1.25"/>
<line x1="479.72" y1="416.9" x2="479.72" y2="411" class="e"/>
<line x1="478.67" y1="411" x2="480.77" y2="411" class="e"/>
<rect x="478.12" y="417.52" width="3.2" height="49.15" fill="#909090" stroke="#000" stroke-width="1.25"/>
<line x1="486.32" y1="428.5" x2="486.32" y2="428" class="e"/>
<line x1="485.27" y1="428" x2="487.38" y2="428" class="e"/>
<rect x="484.72" y="429.12" width="3.2" height="37.55" fill="#ececec" stroke="#000" stroke-width="1.25"/>
<line x1="340.7" y1="387.7" x2="340.7" y2="467.8" class="a"/>
<line x1="340.2" y1="467.3" x2="490.9" y2="467.3" class="a"/>
<line x1="337.7" y1="388.2" x2="340.7" y2="388.2" class="a"/>
<text x="336.1" y="390.25" class="t" text-anchor="end">1500</text>
<line x1="337.7" y1="414.6" x2="340.7" y2="414.6" class="a"/>
<text x="336.1" y="416.65" class="t" text-anchor="end">1000</text>
<line x1="337.7" y1="440.9" x2="340.7" y2="440.9" class="a"/>
<text x="336.1" y="442.95" class="t" text-anchor="end">500</text>
<line x1="337.7" y1="467.3" x2="340.7" y2="467.3" class="a"/>
<text x="336.1" y="469.35" class="t" text-anchor="end">0</text>
<text transform="translate(318,427.75) rotate(-90)" class="yl" text-anchor="middle">Concentration (pg/mL)</text>
<line x1="354.82" y1="467.3" x2="354.82" y2="470.3" class="a"/>
<text transform="translate(357.22,477.9) rotate(-45)" class="xr" text-anchor="end">1.25 mg/mL AMK</text>
<line x1="385.22" y1="467.3" x2="385.22" y2="470.3" class="a"/>
<text transform="translate(387.62,477.9) rotate(-45)" class="xr" text-anchor="end">0.02 mg/mL CIP</text>
<line x1="415.62" y1="467.3" x2="415.62" y2="470.3" class="a"/>
<text transform="translate(418.02,477.9) rotate(-45)" class="xr" text-anchor="end">0.034 mg/mL COL</text>
<line x1="446.02" y1="467.3" x2="446.02" y2="470.3" class="a"/>
<text transform="translate(448.42,477.9) rotate(-45)" class="xr" text-anchor="end">1 mg/mL MER</text>
<line x1="476.42" y1="467.3" x2="476.42" y2="470.3" class="a"/>
<text transform="translate(478.82,477.9) rotate(-45)" class="xr" text-anchor="end">CONTROL</text>
<polyline points="466.1,426.5 466.1,385.2 479.5,385.2 479.5,389.6" class="b"/>
<text x="473.48" y="383.9" class="s">*</text>
<polyline points="472.7,423.2 472.7,401.6 479.5,401.6 479.5,406.3" class="b"/>
<text x="476.78" y="400.3" class="s">*</text>
<rect x="508.2" y="391.3" width="8.4" height="4" fill="#000"/>
<text x="522.3" y="395.7" class="lg">D3</text>
<rect x="508.8" y="402.5" width="7.2" height="2.8" fill="#b8b8bc" stroke="#000" stroke-width="1.2"/>
<text x="522.3" y="406.3" class="lg">D7</text>
<rect x="508.8" y="413.1" width="7.2" height="2.8" fill="#909090" stroke="#000" stroke-width="1.2"/>
<text x="522.3" y="416.9" class="lg">D10</text>
<rect x="508.8" y="423.8" width="7.2" height="2.8" fill="#ececec" stroke="#000" stroke-width="1.2"/>
<text x="522.3" y="427.6" class="lg">D14</text>
<text x="316.6" y="373.6" class="pl">f</text>
</g>
<g id="panel-g">
<line x1="67.4" y1="598.2" x2="67.4" y2="575.1" class="e"/>
<line x1="66.35" y1="575.1" x2="68.45" y2="575.1" class="e"/>
<rect x="65.2" y="598.2" width="4.4" height="42.3" fill="#000"/>
<line x1="74" y1="612.6" x2="74" y2="598.2" class="e"/>
<line x1="72.95" y1="598.2" x2="75.05" y2="598.2" class="e"/>
<rect x="72.42" y="613.23" width="3.15" height="26.65" fill="#b8b8bc" stroke="#000" stroke-width="1.25"/>
<line x1="80.6" y1="608.6" x2="80.6" y2="595.2" class="e"/>
<line x1="79.55" y1="595.2" x2="81.65" y2="595.2" class="e"/>
<rect x="79.03" y="609.23" width="3.15" height="30.65" fill="#909090" stroke="#000" stroke-width="1.25"/>
<line x1="87.2" y1="617.8" x2="87.2" y2="608.2" class="e"/>
<line x1="86.15" y1="608.2" x2="88.25" y2="608.2" class="e"/>
<rect x="85.62" y="618.42" width="3.15" height="21.45" fill="#ececec" stroke="#000" stroke-width="1.25"/>
<line x1="93.8" y1="607.6" x2="93.8" y2="589.1" class="e"/>
<line x1="92.75" y1="589.1" x2="94.85" y2="589.1" class="e"/>
<rect x="92.22" y="608.23" width="3.15" height="31.65" fill="#6e6e6e" stroke="#000" stroke-width="1.25"/>
<line x1="105" y1="624.8" x2="105" y2="620.8" class="e"/>
<line x1="103.95" y1="620.8" x2="106.05" y2="620.8" class="e"/>
<rect x="102.8" y="624.8" width="4.4" height="15.7" fill="#000"/>
<line x1="111.6" y1="623.2" x2="111.6" y2="618.2" class="e"/>
<line x1="110.55" y1="618.2" x2="112.65" y2="618.2" class="e"/>
<rect x="110.03" y="623.83" width="3.15" height="16.05" fill="#b8b8bc" stroke="#000" stroke-width="1.25"/>
<line x1="118.2" y1="624.2" x2="118.2" y2="618.2" class="e"/>
<line x1="117.15" y1="618.2" x2="119.25" y2="618.2" class="e"/>
<rect x="116.63" y="624.83" width="3.15" height="15.05" fill="#909090" stroke="#000" stroke-width="1.25"/>
<line x1="124.8" y1="624.2" x2="124.8" y2="618.8" class="e"/>
<line x1="123.75" y1="618.8" x2="125.85" y2="618.8" class="e"/>
<rect x="123.23" y="624.83" width="3.15" height="15.05" fill="#ececec" stroke="#000" stroke-width="1.25"/>
<line x1="131.4" y1="624.2" x2="131.4" y2="622.2" class="e"/>
<line x1="130.35" y1="622.2" x2="132.45" y2="622.2" class="e"/>
<rect x="129.83" y="624.83" width="3.15" height="15.05" fill="#6e6e6e" stroke="#000" stroke-width="1.25"/>
<line x1="142.6" y1="624.6" x2="142.6" y2="622.8" class="e"/>
<line x1="141.55" y1="622.8" x2="143.65" y2="622.8" class="e"/>
<rect x="140.4" y="624.6" width="4.4" height="15.9" fill="#000"/>
<line x1="149.2" y1="619.2" x2="149.2" y2="618.6" class="e"/>
<line x1="148.15" y1="618.6" x2="150.25" y2="618.6" class="e"/>
<rect x="147.62" y="619.83" width="3.15" height="20.05" fill="#b8b8bc" stroke="#000" stroke-width="1.25"/>
<line x1="155.8" y1="623.6" x2="155.8" y2="619.2" class="e"/>
<line x1="154.75" y1="619.2" x2="156.85" y2="619.2" class="e"/>
<rect x="154.22" y="624.23" width="3.15" height="15.65" fill="#909090" stroke="#000" stroke-width="1.25"/>
<line x1="162.4" y1="628.2" x2="162.4" y2="627.6" class="e"/>
<line x1="161.35" y1="627.6" x2="163.45" y2="627.6" class="e"/>
<rect x="160.82" y="628.83" width="3.15" height="11.05" fill="#ececec" stroke="#000" stroke-width="1.25"/>
<line x1="169" y1="624.2" x2="169" y2="621.6" class="e"/>
<line x1="167.95" y1="621.6" x2="170.05" y2="621.6" class="e"/>
<rect x="167.43" y="624.83" width="3.15" height="15.05" fill="#6e6e6e" stroke="#000" stroke-width="1.25"/>
<line x1="180.2" y1="608.2" x2="180.2" y2="588.1" class="e"/>
<line x1="179.15" y1="588.1" x2="181.25" y2="588.1" class="e"/>
<rect x="178" y="608.2" width="4.4" height="32.3" fill="#000"/>
<line x1="186.8" y1="613.2" x2="186.8" y2="603.2" class="e"/>
<line x1="185.75" y1="603.2" x2="187.85" y2="603.2" class="e"/>
<rect x="185.22" y="613.83" width="3.15" height="26.05" fill="#b8b8bc" stroke="#000" stroke-width="1.25"/>
<line x1="193.4" y1="617.2" x2="193.4" y2="605.2" class="e"/>
<line x1="192.35" y1="605.2" x2="194.45" y2="605.2" class="e"/>
<rect x="191.82" y="617.83" width="3.15" height="22.05" fill="#909090" stroke="#000" stroke-width="1.25"/>
<line x1="200" y1="626.2" x2="200" y2="622.2" class="e"/>
<line x1="198.95" y1="622.2" x2="201.05" y2="622.2" class="e"/>
<rect x="198.43" y="626.83" width="3.15" height="13.05" fill="#ececec" stroke="#000" stroke-width="1.25"/>
<line x1="206.6" y1="618.8" x2="206.6" y2="612.2" class="e"/>
<line x1="205.55" y1="612.2" x2="207.65" y2="612.2" class="e"/>
<rect x="205.03" y="619.42" width="3.15" height="20.45" fill="#6e6e6e" stroke="#000" stroke-width="1.25"/>
<line x1="62.9" y1="561.2" x2="62.9" y2="641" class="a"/>
<line x1="62.4" y1="640.5" x2="211.2" y2="640.5" class="a"/>
<line x1="59.9" y1="561.7" x2="62.9" y2="561.7" class="a"/>
<text x="58.3" y="563.75" class="t" text-anchor="end">8000</text>
<line x1="59.9" y1="581.4" x2="62.9" y2="581.4" class="a"/>
<text x="58.3" y="583.45" class="t" text-anchor="end">6000</text>
<line x1="59.9" y1="601.1" x2="62.9" y2="601.1" class="a"/>
<text x="58.3" y="603.15" class="t" text-anchor="end">4000</text>
<line x1="59.9" y1="620.8" x2="62.9" y2="620.8" class="a"/>
<text x="58.3" y="622.85" class="t" text-anchor="end">2000</text>
<line x1="59.9" y1="640.5" x2="62.9" y2="640.5" class="a"/>
<text x="58.3" y="642.55" class="t" text-anchor="end">0</text>
<text transform="translate(40.6,601.1) rotate(-90)" class="yl" text-anchor="middle">Concentration (pg/mL)</text>
<line x1="80.6" y1="640.5" x2="80.6" y2="643.5" class="a"/>
<text x="80.6" y="651.6" class="xl" text-anchor="middle">D3</text>
<line x1="118.2" y1="640.5" x2="118.2" y2="643.5" class="a"/>
<text x="118.2" y="651.6" class="xl" text-anchor="middle">D7</text>
<line x1="155.8" y1="640.5" x2="155.8" y2="643.5" class="a"/>
<text x="155.8" y="651.6" class="xl" text-anchor="middle">D10</text>
<line x1="193.4" y1="640.5" x2="193.4" y2="643.5" class="a"/>
<text x="193.4" y="651.6" class="xl" text-anchor="middle">D14</text>
<rect x="229.4" y="564.6" width="8.4" height="4" fill="#000"/>
<text x="242.8" y="569" class="lg">1.25 mg/mL AMK</text>
<rect x="230" y="575.9" width="7.2" height="2.8" fill="#b8b8bc" stroke="#000" stroke-width="1.2"/>
<text x="242.8" y="579.7" class="lg">0.02 mg/mL CIP</text>
<rect x="230" y="586.5" width="7.2" height="2.8" fill="#909090" stroke="#000" stroke-width="1.2"/>
<text x="242.8" y="590.3" class="lg">0.034 mg/mL COL</text>
<rect x="230" y="597.2" width="7.2" height="2.8" fill="#ececec" stroke="#000" stroke-width="1.2"/>
<text x="242.8" y="601" class="lg">1 mg/mL MER</text>
<rect x="230" y="607.8" width="7.2" height="2.8" fill="#6e6e6e" stroke="#000" stroke-width="1.2"/>
<text x="242.8" y="611.6" class="lg">CONTROL</text>
<text x="42.8" y="534.9" class="pl">g</text>
<text transform="translate(18.7,603.9) rotate(-90)" class="rl" text-anchor="middle">IL-6</text>
</g>
<g id="panel-h">
<line x1="344.93" y1="594.2" x2="344.93" y2="571.7" class="e"/>
<line x1="343.88" y1="571.7" x2="345.98" y2="571.7" class="e"/>
<rect x="342.7" y="594.2" width="4.45" height="42.9" fill="#000"/>
<line x1="351.43" y1="621.5" x2="351.43" y2="617.1" class="e"/>
<line x1="350.38" y1="617.1" x2="352.48" y2="617.1" class="e"/>
<rect x="349.82" y="622.12" width="3.2" height="14.35" fill="#b8b8bc" stroke="#000" stroke-width="1.25"/>
<line x1="357.93" y1="621" x2="357.93" y2="619.9" class="e"/>
<line x1="356.88" y1="619.9" x2="358.98" y2="619.9" class="e"/>
<rect x="356.32" y="621.62" width="3.2" height="14.85" fill="#909090" stroke="#000" stroke-width="1.25"/>
<line x1="364.43" y1="604" x2="364.43" y2="584.4" class="e"/>
<line x1="363.38" y1="584.4" x2="365.48" y2="584.4" class="e"/>
<rect x="362.82" y="604.62" width="3.2" height="31.85" fill="#ececec" stroke="#000" stroke-width="1.25"/>
<line x1="374.62" y1="608.8" x2="374.62" y2="594.2" class="e"/>
<line x1="373.57" y1="594.2" x2="375.68" y2="594.2" class="e"/>
<rect x="372.4" y="608.8" width="4.45" height="28.3" fill="#000"/>
<line x1="381.12" y1="619.3" x2="381.12" y2="614.5" class="e"/>
<line x1="380.07" y1="614.5" x2="382.18" y2="614.5" class="e"/>
<rect x="379.52" y="619.92" width="3.2" height="16.55" fill="#b8b8bc" stroke="#000" stroke-width="1.25"/>
<line x1="387.62" y1="615.6" x2="387.62" y2="614.9" class="e"/>
<line x1="386.57" y1="614.9" x2="388.68" y2="614.9" class="e"/>
<rect x="386.02" y="616.23" width="3.2" height="20.25" fill="#909090" stroke="#000" stroke-width="1.25"/>
<line x1="394.12" y1="609.9" x2="394.12" y2="599.2" class="e"/>
<line x1="393.07" y1="599.2" x2="395.18" y2="599.2" class="e"/>
<rect x="392.52" y="610.52" width="3.2" height="25.95" fill="#ececec" stroke="#000" stroke-width="1.25"/>
<line x1="404.32" y1="604.7" x2="404.32" y2="591.4" class="e"/>
<line x1="403.27" y1="591.4" x2="405.38" y2="591.4" class="e"/>
<rect x="402.1" y="604.7" width="4.45" height="32.4" fill="#000"/>
<line x1="410.82" y1="620.8" x2="410.82" y2="614.5" class="e"/>
<line x1="409.77" y1="614.5" x2="411.88" y2="614.5" class="e"/>
<rect x="409.22" y="621.42" width="3.2" height="15.05" fill="#b8b8bc" stroke="#000" stroke-width="1.25"/>
<line x1="417.32" y1="619.7" x2="417.32" y2="615.4" class="e"/>
<line x1="416.27" y1="615.4" x2="418.38" y2="615.4" class="e"/>
<rect x="415.72" y="620.33" width="3.2" height="16.15" fill="#909090" stroke="#000" stroke-width="1.25"/>
<line x1="423.82" y1="613.4" x2="423.82" y2="601.8" class="e"/>
<line x1="422.77" y1="601.8" x2="424.88" y2="601.8" class="e"/>
<rect x="422.22" y="614.02" width="3.2" height="22.45" fill="#ececec" stroke="#000" stroke-width="1.25"/>
<line x1="434.02" y1="613.9" x2="434.02" y2="604.6" class="e"/>
<line x1="432.97" y1="604.6" x2="435.07" y2="604.6" class="e"/>
<rect x="431.8" y="613.9" width="4.45" height="23.2" fill="#000"/>
<line x1="440.52" y1="620.9" x2="440.52" y2="615.3" class="e"/>
<line x1="439.47" y1="615.3" x2="441.57" y2="615.3" class="e"/>
<rect x="438.92" y="621.52" width="3.2" height="14.95" fill="#b8b8bc" stroke="#000" stroke-width="1.25"/>
<line x1="447.02" y1="624.7" x2="447.02" y2="624" class="e"/>
<line x1="445.97" y1="624" x2="448.07" y2="624" class="e"/>
<rect x="445.42" y="625.33" width="3.2" height="11.15" fill="#909090" stroke="#000" stroke-width="1.25"/>
<line x1="453.52" y1="622.4" x2="453.52" y2="618.8" class="e"/>
<line x1="452.47" y1="618.8" x2="454.57" y2="618.8" class="e"/>
<rect x="451.92" y="623.02" width="3.2" height="13.45" fill="#ececec" stroke="#000" stroke-width="1.25"/>
<line x1="463.73" y1="603.9" x2="463.73" y2="586.2" class="e"/>
<line x1="462.68" y1="586.2" x2="464.78" y2="586.2" class="e"/>
<rect x="461.5" y="603.9" width="4.45" height="33.2" fill="#000"/>
<line x1="470.23" y1="620.5" x2="470.23" y2="618.1" class="e"/>
<line x1="469.18" y1="618.1" x2="471.28" y2="618.1" class="e"/>
<rect x="468.62" y="621.12" width="3.2" height="15.35" fill="#b8b8bc" stroke="#000" stroke-width="1.25"/>
<line x1="476.73" y1="620.5" x2="476.73" y2="618.1" class="e"/>
<line x1="475.68" y1="618.1" x2="477.78" y2="618.1" class="e"/>
<rect x="475.12" y="621.12" width="3.2" height="15.35" fill="#909090" stroke="#000" stroke-width="1.25"/>
<line x1="483.23" y1="615.3" x2="483.23" y2="608.7" class="e"/>
<line x1="482.18" y1="608.7" x2="484.28" y2="608.7" class="e"/>
<rect x="481.62" y="615.92" width="3.2" height="20.55" fill="#ececec" stroke="#000" stroke-width="1.25"/>
<line x1="340.7" y1="557.7" x2="340.7" y2="637.6" class="a"/>
<line x1="340.2" y1="637.1" x2="488.1" y2="637.1" class="a"/>
<line x1="337.7" y1="558.2" x2="340.7" y2="558.2" class="a"/>
<text x="336.1" y="560.25" class="t" text-anchor="end">8000</text>
<line x1="337.7" y1="577.9" x2="340.7" y2="577.9" class="a"/>
<text x="336.1" y="579.95" class="t" text-anchor="end">6000</text>
<line x1="337.7" y1="597.6" x2="340.7" y2="597.6" class="a"/>
<text x="336.1" y="599.65" class="t" text-anchor="end">4000</text>
<line x1="337.7" y1="617.4" x2="340.7" y2="617.4" class="a"/>
<text x="336.1" y="619.45" class="t" text-anchor="end">2000</text>
<line x1="337.7" y1="637.1" x2="340.7" y2="637.1" class="a"/>
<text x="336.1" y="639.15" class="t" text-anchor="end">0</text>
<text transform="translate(318,597.65) rotate(-90)" class="yl" text-anchor="middle">Concentration (pg/mL)</text>
<line x1="354.68" y1="637.1" x2="354.68" y2="640.1" class="a"/>
<text transform="translate(357.18,647) rotate(-45)" class="xr" text-anchor="end">1.25 mg/mL AMK</text>
<line x1="384.38" y1="637.1" x2="384.38" y2="640.1" class="a"/>
<text transform="translate(386.88,647) rotate(-45)" class="xr" text-anchor="end">0.02 mg/mL CIP</text>
<line x1="414.07" y1="637.1" x2="414.07" y2="640.1" class="a"/>
<text transform="translate(416.57,647) rotate(-45)" class="xr" text-anchor="end">0.034 mg/mL COL</text>
<line x1="443.77" y1="637.1" x2="443.77" y2="640.1" class="a"/>
<text transform="translate(446.27,647) rotate(-45)" class="xr" text-anchor="end">1 mg/mL MER</text>
<line x1="473.48" y1="637.1" x2="473.48" y2="640.1" class="a"/>
<text transform="translate(475.98,647) rotate(-45)" class="xr" text-anchor="end">CONTROL</text>
<rect x="505.1" y="561.3" width="8.4" height="4" fill="#000"/>
<text x="519" y="565.7" class="lg">D3</text>
<rect x="505.7" y="572.5" width="7.2" height="2.8" fill="#b8b8bc" stroke="#000" stroke-width="1.2"/>
<text x="519" y="576.3" class="lg">D7</text>
<rect x="505.7" y="583.1" width="7.2" height="2.8" fill="#909090" stroke="#000" stroke-width="1.2"/>
<text x="519" y="586.9" class="lg">D10</text>
<rect x="505.7" y="593.8" width="7.2" height="2.8" fill="#ececec" stroke="#000" stroke-width="1.2"/>
<text x="519" y="597.6" class="lg">D14</text>
<text x="316" y="540.1" class="pl">h</text>
</g>
</svg>
</body></html>
